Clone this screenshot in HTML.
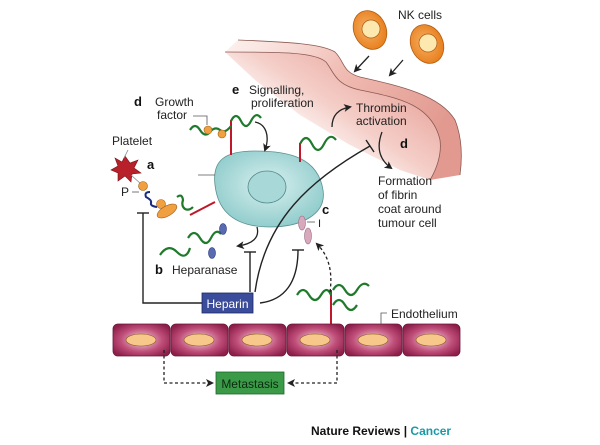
<!DOCTYPE html>
<html><head><meta charset="utf-8"><style>
html,body{margin:0;padding:0;background:#fff;overflow:hidden;}
svg{display:block;font-family:"Liberation Sans",sans-serif;}
</style></head><body>
<svg width="600" height="445" viewBox="0 0 600 445" xmlns="http://www.w3.org/2000/svg">
<defs>
<linearGradient id="band" x1="0" y1="0" x2="1" y2="0.4">
<stop offset="0" stop-color="#f8dcd5" stop-opacity="0.4"/>
<stop offset="0.5" stop-color="#f0bcb3"/>
<stop offset="1" stop-color="#e29a90"/>
</linearGradient>
<linearGradient id="fade" x1="1" y1="0.2" x2="0.2" y2="0.9">
<stop offset="0" stop-color="#e3968c"/>
<stop offset="0.5" stop-color="#f2c3bb" stop-opacity="0.8"/>
<stop offset="1" stop-color="#fff" stop-opacity="0"/>
</linearGradient>
<radialGradient id="cell" cx="0.5" cy="0.45" r="0.6">
<stop offset="0" stop-color="#d9f0ef"/><stop offset="1" stop-color="#8ccaca"/>
</radialGradient>
<radialGradient id="endo" cx="0.5" cy="0.5" r="0.6">
<stop offset="0" stop-color="#f3dbe4"/><stop offset="0.6" stop-color="#c0507a"/><stop offset="1" stop-color="#8e1f4b"/>
</radialGradient>
<radialGradient id="nk" cx="0.45" cy="0.45" r="0.55">
<stop offset="0" stop-color="#f7b067"/><stop offset="1" stop-color="#e8801e"/>
</radialGradient>
<marker id="ah" markerWidth="8" markerHeight="8" refX="6" refY="4" orient="auto" markerUnits="userSpaceOnUse"><path d="M0,0 L8,4 L0,8 L2,4 Z" fill="#222"/></marker>
</defs>

<!-- pink band -->
<path d="M225,52 C280,52 315,52 326,62 C334,72 335,85 360,90 C400,98 432,105 440,140 C442,155 436,170 430,180 L400,170 L350,145 L300,115 L255,80 Z" fill="url(#fade)"/>
<path d="M238,40 C290,42 322,44 335,52 C345,62 342,72 360,77 C400,86 440,95 455,120 C463,140 462,160 460,175 L430,180 C436,170 442,155 440,140 C432,105 400,98 360,90 C335,85 334,72 326,62 C315,52 280,52 225,52 Z" fill="url(#band)"/>
<path d="M238,40 C290,42 322,44 335,52 C345,62 342,72 360,77 C400,86 440,95 455,120 C463,140 462,160 460,175" fill="none" stroke="#8b5a55" stroke-width="0.8"/>
<path d="M225,52 C280,52 315,52 326,62 C334,72 335,85 360,90 C400,98 432,105 440,140 C442,155 436,170 430,180" fill="none" stroke="#8b5a55" stroke-width="0.8"/>

<!-- NK cells -->
<ellipse cx="370" cy="30" rx="16" ry="20" transform="rotate(-25 370 30)" fill="url(#nk)" stroke="#b05a10" stroke-width="0.8"/>
<circle cx="371" cy="29" r="9" fill="#fde8b0" stroke="#b05a10" stroke-width="0.7"/>
<ellipse cx="427" cy="44" rx="16" ry="20" transform="rotate(-25 427 44)" fill="url(#nk)" stroke="#b05a10" stroke-width="0.8"/>
<circle cx="428" cy="43" r="9" fill="#fde8b0" stroke="#b05a10" stroke-width="0.7"/>
<text x="398" y="19" font-size="12" fill="#222">NK cells</text>
<line x1="369" y1="56" x2="355" y2="71" stroke="#222" stroke-width="1.3" marker-end="url(#ah)"/>
<line x1="403" y1="60" x2="390" y2="75" stroke="#222" stroke-width="1.3" marker-end="url(#ah)"/>

<!-- tumour cell -->
<path d="M215,185 C212,160 225,151 255,151 C290,151 318,158 323,190 C327,215 300,227 270,227 C235,227 218,212 215,185 Z" fill="url(#cell)" stroke="#5a9090" stroke-width="0.8"/>
<ellipse cx="267" cy="187" rx="19" ry="16" fill="#a8d8d8" stroke="#4e8a8a" stroke-width="0.8"/>
<line x1="198" y1="175" x2="215" y2="175" stroke="#555" stroke-width="0.8"/>

<!-- red stalks -->
<g stroke="#c0182a" stroke-width="2" fill="none">
<line x1="231" y1="155" x2="231" y2="120"/>
<line x1="300" y1="162" x2="300" y2="143"/>
<line x1="215" y1="202" x2="190" y2="215"/>
<line x1="331" y1="324" x2="331" y2="290"/>
</g>
<!-- green waves -->
<g stroke="#1f7a2c" stroke-width="2.2" fill="none">
<path d="M190,130 q5,-8 10,0 t10,2 t10,-2 t11,-4"/>
<path d="M231,121 q5,-10 10,0 t10,0 t10,-3"/>
<path d="M300,144 q6,-12 12,0 t12,0 t12,-4"/>
<path d="M177,197 q5,-4 6,3 q-2,6 2,9 q4,2 8,-2"/>
<path d="M188,238 q6,-10 12,0 t11,0 t10,-4"/>
<path d="M160,255 q8,-12 17,-3 t13,-4"/>
<path d="M297,295 q6,-10 12,0 t12,0 t10,0"/>
<path d="M333,290 q6,-10 12,0 t12,0 t12,-4"/>
<path d="M333,305 q6,-10 12,0 t12,0"/>
</g>

<!-- platelet etc -->
<path d="M125,156 L130,163 L138,160 L134,168 L141,173 L132,174 L131,182 L125,176 L118,181 L118,173 L111,170 L118,166 L115,158 L122,162 Z" fill="#b8202a" stroke="#7a1018" stroke-width="0.6"/>
<line x1="128" y1="150" x2="124" y2="158" stroke="#888" stroke-width="0.8"/>
<line x1="131" y1="175" x2="141" y2="184" stroke="#888" stroke-width="0.8"/>
<circle cx="143" cy="186" r="4.5" fill="#f0a040" stroke="#a0601a" stroke-width="0.6"/>
<path d="M150,192 q-6,0 -4,5 q6,3 5,6 q-1,3 6,4" fill="none" stroke="#1a2a80" stroke-width="2"/>
<circle cx="161" cy="204" r="4.5" fill="#f0a040" stroke="#a0601a" stroke-width="0.6"/>
<ellipse cx="167" cy="211" rx="11" ry="5" transform="rotate(-30 167 211)" fill="#f0a040" stroke="#a0601a" stroke-width="0.6"/>
<text x="112" y="145" font-size="12" fill="#222">Platelet</text>
<text x="147" y="169" font-size="13" font-weight="bold" fill="#111">a</text>
<text x="121" y="196" font-size="12" fill="#222">P</text>
<line x1="132" y1="192" x2="139" y2="192" stroke="#555" stroke-width="0.8"/>

<!-- growth factor -->
<circle cx="208" cy="130" r="4" fill="#f0a040" stroke="#a0601a" stroke-width="0.6"/>
<circle cx="222" cy="134" r="4" fill="#f0a040" stroke="#a0601a" stroke-width="0.6"/>
<polyline points="193,116 207,116 207,125" fill="none" stroke="#555" stroke-width="0.8"/>
<text x="134" y="106" font-size="13" font-weight="bold" fill="#111">d</text>
<text x="155" y="106" font-size="12" fill="#222">Growth</text>
<text x="157" y="119" font-size="12" fill="#222">factor</text>
<text x="232" y="94" font-size="13" font-weight="bold" fill="#111">e</text>
<text x="249" y="94" font-size="12" fill="#222">Signalling,</text>
<text x="251" y="107" font-size="12" fill="#222">proliferation</text>
<path d="M255,122 C266,124 270,136 265,150" fill="none" stroke="#222" stroke-width="1.3" marker-end="url(#ah)"/>

<text x="356" y="112" font-size="12" fill="#222">Thrombin</text>
<text x="356" y="125" font-size="12" fill="#222">activation</text>
<path d="M332,127 C332,116 338,109 350,107" fill="none" stroke="#222" stroke-width="1.3" marker-end="url(#ah)"/>
<path d="M382,132 C376,148 380,160 391,168" fill="none" stroke="#222" stroke-width="1.3" marker-end="url(#ah)"/>
<text x="400" y="148" font-size="13" font-weight="bold" fill="#111">d</text>
<text x="378" y="185" font-size="12" fill="#222">Formation</text>
<text x="378" y="199" font-size="12" fill="#222">of fibrin</text>
<text x="378" y="213" font-size="12" fill="#222">coat around</text>
<text x="378" y="227" font-size="12" fill="#222">tumour cell</text>

<!-- c inhibitor -->
<text x="322" y="214" font-size="13" font-weight="bold" fill="#111">c</text>
<ellipse cx="302" cy="223" rx="3.5" ry="7" fill="#d8a8bc" stroke="#9a6a80" stroke-width="0.6"/>
<ellipse cx="308" cy="236" rx="3.5" ry="8" fill="#d8a8bc" stroke="#9a6a80" stroke-width="0.6"/>
<line x1="307" y1="222" x2="315" y2="222" stroke="#555" stroke-width="0.8"/>
<text x="318" y="227" font-size="11" fill="#222">I</text>
<path d="M330,292 C333,270 328,255 317,244" fill="none" stroke="#222" stroke-width="1.3" stroke-dasharray="3,2.5" marker-end="url(#ah)"/>

<!-- heparanase -->
<ellipse cx="223" cy="229" rx="3.5" ry="5.5" fill="#5a6ab0" stroke="#2a3a80" stroke-width="0.6"/>
<ellipse cx="212" cy="253" rx="3.5" ry="5.5" fill="#5a6ab0" stroke="#2a3a80" stroke-width="0.6"/>
<text x="155" y="274" font-size="13" font-weight="bold" fill="#111">b</text>
<text x="172" y="274" font-size="12" fill="#222">Heparanase</text>
<path d="M257,227 C260,238 252,244 238,246" fill="none" stroke="#222" stroke-width="1.3" marker-end="url(#ah)"/>

<!-- heparin lines -->
<g stroke="#222" stroke-width="1.4" fill="none">
<polyline points="202,303 143,303 143,213"/>
<line x1="137" y1="213" x2="149" y2="213"/>
<line x1="250" y1="292" x2="250" y2="252"/>
<line x1="244" y1="252" x2="256" y2="252"/>
<path d="M255,292 C265,220 310,180 370,146"/>
<line x1="366" y1="140" x2="374" y2="152"/>
<path d="M260,303 C285,300 298,282 298,250"/>
<line x1="292" y1="250" x2="304" y2="250"/>
</g>
<rect x="202" y="293" width="51" height="20" fill="#3b4c9a" stroke="#1c2a66" stroke-width="0.8"/>
<text x="227.5" y="308" font-size="12" fill="#fff" text-anchor="middle">Heparin</text>

<!-- endothelium -->
<g stroke="#6a1838" stroke-width="0.8">
<rect x="113" y="324" width="57" height="32" rx="5" fill="url(#endo)"/>
<rect x="171" y="324" width="57" height="32" rx="5" fill="url(#endo)"/>
<rect x="229" y="324" width="57" height="32" rx="5" fill="url(#endo)"/>
<rect x="287" y="324" width="57" height="32" rx="5" fill="url(#endo)"/>
<rect x="345" y="324" width="57" height="32" rx="5" fill="url(#endo)"/>
<rect x="403" y="324" width="57" height="32" rx="5" fill="url(#endo)"/>
</g>
<g fill="#f7c88a" stroke="#8a5a20" stroke-width="0.6">
<ellipse cx="141" cy="340" rx="15" ry="6"/><ellipse cx="199" cy="340" rx="15" ry="6"/>
<ellipse cx="257" cy="340" rx="15" ry="6"/><ellipse cx="315" cy="340" rx="15" ry="6"/>
<ellipse cx="373" cy="340" rx="15" ry="6"/><ellipse cx="431" cy="340" rx="15" ry="6"/>
</g>
<polyline points="381,325 381,313 387,313" fill="none" stroke="#555" stroke-width="0.8"/>
<text x="391" y="318" font-size="12" fill="#222">Endothelium</text>

<!-- metastasis -->
<g stroke="#222" stroke-width="1.3" fill="none" stroke-dasharray="3,2.5">
<polyline points="164,350 164,383 212,383" marker-end="url(#ah)"/>
<polyline points="337,350 337,383 289,383" marker-end="url(#ah)"/>
</g>
<rect x="216" y="372" width="68" height="22" fill="#3a9a48" stroke="#1f6a2a" stroke-width="0.8"/>
<text x="250" y="388" font-size="12" fill="#0c2a10" text-anchor="middle">Metastasis</text>

<text x="311" y="435" font-size="12" font-weight="bold" fill="#111">Nature Reviews | <tspan fill="#1a9aa8">Cancer</tspan></text>
</svg>
</body></html>
